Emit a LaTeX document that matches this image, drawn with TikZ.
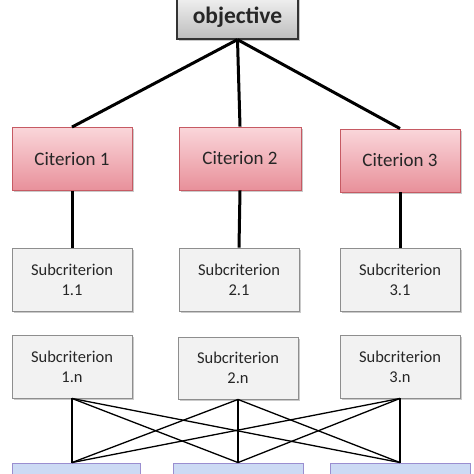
\documentclass[tikz,border=0pt]{standalone}
\usepackage{fontspec}
\setmainfont{Carlito}
\usetikzlibrary{shadows}
\definecolor{critTop}{HTML}{FAD6DA}
\definecolor{critBot}{HTML}{E8909A}
\definecolor{critBorder}{HTML}{C65A63}
\definecolor{subFill}{HTML}{F2F2F2}
\definecolor{subBorder}{HTML}{8E8E8E}
\definecolor{objTop}{HTML}{F2F2F2}
\definecolor{objBot}{HTML}{BDBDBD}
\definecolor{altFill}{HTML}{CCDAF4}
\definecolor{altBorder}{HTML}{9A8ED0}
\tikzset{
  boxshadow/.style={drop shadow={shadow xshift=1.5pt, shadow yshift=-1.5pt, opacity=0.35, fill=black!60}},
  objbox/.style={draw=black!80, line width=1.2pt, top color=objTop, bottom color=objBot, boxshadow,
    minimum width=121pt, minimum height=43pt, inner sep=0pt, font=\fontsize{23.5}{26}\selectfont\bfseries, text=black!85},
  critbox/.style={draw=critBorder, line width=0.9pt, top color=critTop, bottom color=critBot, boxshadow,
    minimum height=63pt, inner sep=0pt, font=\fontsize{19}{22}\selectfont, text=black!85},
  subbox/.style={draw=subBorder, line width=0.9pt, fill=subFill, boxshadow,
    minimum width=120pt, minimum height=63pt, inner sep=0pt, align=center,
    font=\fontsize{16.5}{20}\selectfont, text=black!85},
  altbox/.style={draw=altBorder, line width=0.9pt, fill=altFill, minimum height=54pt, inner sep=0pt},
  thickline/.style={line width=3pt, black},
  thinline/.style={line width=1.3pt, black},
}
\begin{document}
\begin{tikzpicture}[x=1pt, y=-1pt]
\useasboundingbox (0,0) rectangle (474,474);
% top objective
\node[objbox] (obj) at (237.5,17.5) {objective};
% criteria
\node[critbox, minimum width=120pt] (c1) at (72,159) {Citerion 1};
\node[critbox, minimum width=122pt] (c2) at (240,158.5) {Citerion 2};
\node[critbox, minimum width=120pt] (c3) at (400,160.5) {Citerion 3};
% subcriteria 1
\node[subbox] (s11) at (72,279.5) {Subcriterion\\1.1};
\node[subbox] (s21) at (239,279.5) {Subcriterion\\2.1};
\node[subbox] (s31) at (400,279.5) {Subcriterion\\3.1};
% subcriteria n
\node[subbox] (s1n) at (72,366.5) {Subcriterion\\1.n};
\node[subbox, minimum height=62pt] (s2n) at (238,368) {Subcriterion\\2.n};
\node[subbox] (s3n) at (400,366.5) {Subcriterion\\3.n};
% bottom alternatives (cut off)
\node[altbox, minimum width=128pt] (b1) at (76,490) {};
\node[altbox, minimum width=130pt] (b2) at (238,490) {};
\node[altbox, minimum width=140pt] (b3) at (400,490) {};
% connectors
\draw[thickline] (obj.south) -- (c1.north);
\draw[thickline] (obj.south) -- (c2.north);
\draw[thickline] (obj.south) -- (c3.north);
\draw[thickline] (c1.south) -- (s11.north);
\draw[thickline] (c2.south) -- (s21.north);
\draw[thickline] (c3.south) -- (s31.north);
% cross connections
\foreach \s in {s1n,s2n,s3n}{
  \foreach \b/\t in {b1/s1n,b2/s2n,b3/s3n}{
    \draw[thinline] (\s.south) -- (\b.north -| \t.south);
  }
}
\end{tikzpicture}
\end{document}
